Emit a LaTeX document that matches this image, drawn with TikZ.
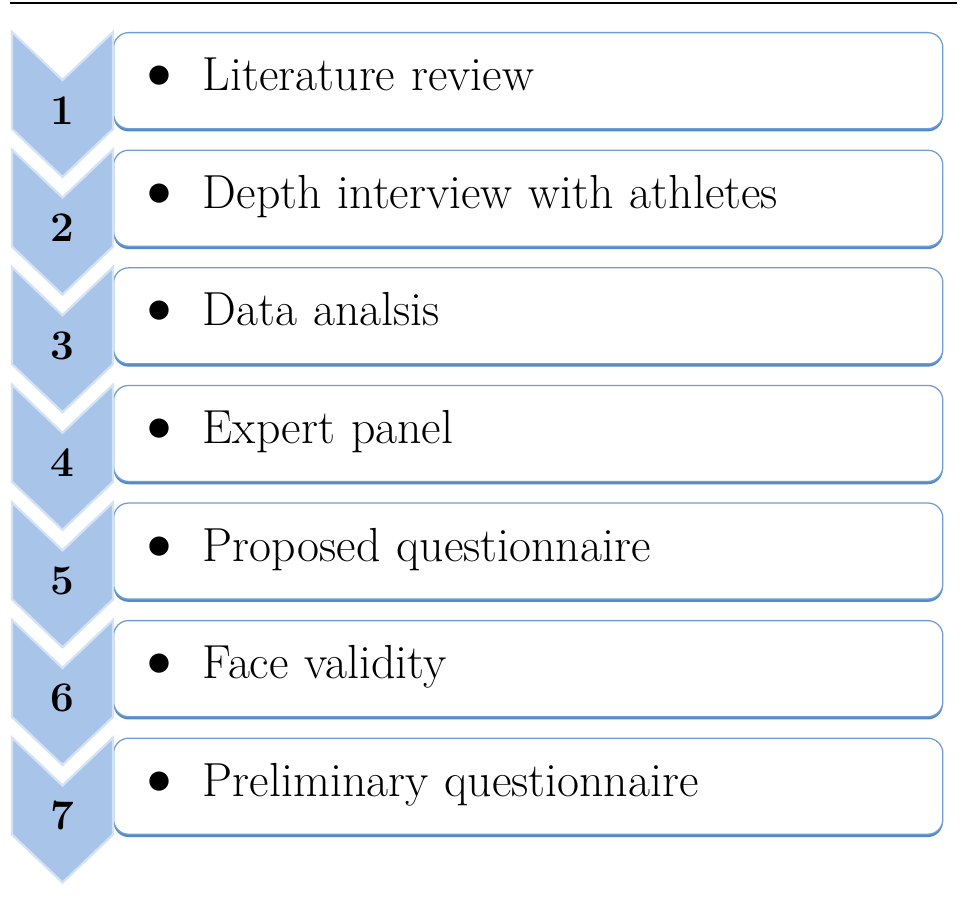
\documentclass[tikz,border=0pt]{standalone}
\usepackage{xcolor}
\usepackage{tikz}
\usetikzlibrary{positioning, shadows}
\definecolor{chevfill}{RGB}{168, 196, 233}
\definecolor{chevedge}{RGB}{212, 226, 246}
\definecolor{frameblue}{RGB}{112, 157, 210}
\definecolor{shadeblue}{RGB}{84, 138, 200}
\newcommand{\stagedot}{\makebox[2.17cm][c]{\raisebox{-0.2cm}{\scalebox{1.8}{\textbullet}}}}

\begin{document}
\begin{tikzpicture}[
    x=0.025cm, y=-0.025cm,
    node distance=0.5075cm,
    stagebox/.style={rectangle, draw=frameblue, line width=0.9pt, fill=white, rounded corners=0.375cm, minimum width=20.725cm, minimum height=2.4cm, text width=20.6cm, align=left, inner xsep=0cm, text height=0.85cm, text depth=0.35cm, font=\fontsize{34}{40}\selectfont, drop shadow={shadow xshift=0cm, shadow yshift=-0.07cm, fill=shadeblue, opacity=1}},
    chevron/.style={draw=chevedge, line width=1.6pt, fill=chevfill},
    num/.style={font=\fontsize{30}{36}\selectfont\bfseries, anchor=base},
    pics/stagechev/.style={code={
        \draw[chevron] (0,0) -- (-50.5,48) -- (-101,0) -- (-101,97) -- (-50.5,145) -- (0,97) -- cycle;
        \node[num] (n) at (-50.5,92) {#1};
    }}
]
    \useasboundingbox (0,0) rectangle (964,907);
    \draw[line width=0.07cm] (10,3) -- (957,3);

    \node[stagebox, anchor=north west] (lit) at (113,32) {\stagedot Literature review};
    \node[stagebox, below=of lit] (depth) {\stagedot Depth interview with athletes};
    \node[stagebox, below=of depth] (data) {\stagedot Data analsis};
    \node[stagebox, below=of data] (expert) {\stagedot Expert panel};
    \node[stagebox, below=of expert] (proposed) {\stagedot Proposed questionnaire};
    \node[stagebox, below=of proposed] (face) {\stagedot Face validity};
    \node[stagebox, below=of face] (prelim) {\stagedot Preliminary questionnaire};

    \pic (c1) at (lit.north west) {stagechev=1};
    \pic (c2) at (depth.north west) {stagechev=2};
    \pic (c3) at (data.north west) {stagechev=3};
    \pic (c4) at (expert.north west) {stagechev=4};
    \pic (c5) at (proposed.north west) {stagechev=5};
    \pic (c6) at (face.north west) {stagechev=6};
    \pic (c7) at (prelim.north west) {stagechev=7};
\end{tikzpicture}
\end{document}
